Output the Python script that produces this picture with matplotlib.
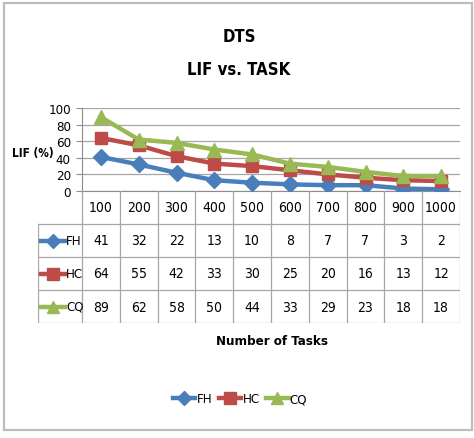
import matplotlib
matplotlib.use("Agg")
import matplotlib.pyplot as plt
from matplotlib.lines import Line2D
from matplotlib.patches import Rectangle

tasks = ["100", "200", "300", "400", "500", "600", "700", "800", "900", "1000"]
series_names = ["FH", "HC", "CQ"]
fh = [41, 32, 22, 13, 10, 8, 7, 7, 3, 2]
hc = [64, 55, 42, 33, 30, 25, 20, 16, 13, 12]
cq = [89, 62, 58, 50, 44, 33, 29, 23, 18, 18]
yticks = [0, 20, 40, 60, 80, 100]

colors = ["#4a7ebb", "#be4b48", "#98b954"]
markers = ["D", "s", "^"]
msizes = [8, 9, 10]
plt.rcParams['font.family'] = ["DejaVu Sans"]
plt.rcParams['font.stretch'] = 'condensed'

W, H = 474, 439
fig = plt.figure(figsize=(W / 100, H / 100), dpi=100)
fig.patch.set_facecolor("white")

def fx(px):
    return px / W

def fy(py):
    return 1 - py / H

# outer border
fig.add_artist(Rectangle((fx(4), fy(431)), fx(468), 427 / H, transform=fig.transFigure,
                         fill=False, edgecolor="#bdbdbd", lw=1.6))

# main plot
L, R, T, B = 82, 460, 109, 192
ax = fig.add_axes([fx(L), fy(B), fx(R - L), (B - T) / H])
x = list(range(len(tasks)))
data = [fh, hc, cq]
for vals, c, m, ms in zip(data, colors, markers, msizes):
    ax.plot(x, vals, color=c, lw=3.2, marker=m, markersize=ms, zorder=3)
ax.set_xlim(-0.5, len(tasks) - 0.5)
ax.set_ylim(0, 100)
ax.set_yticks(yticks)
ax.set_yticklabels([str(v) for v in yticks], fontsize=9.5)
ax.set_xticks([])
ax.grid(axis="y", color="#a6a6a6", lw=0.9)
ax.set_axisbelow(True)
for s in ["top", "right"]:
    ax.spines[s].set_visible(False)
ax.spines["left"].set_color("#8c8c8c")
ax.spines["bottom"].set_color("#8c8c8c")
ax.tick_params(axis="y", length=4, color="#8c8c8c", pad=4)
fig.text(fx(33), fy(153), "LIF (%)", ha="center", va="center", fontsize=8.5, fontweight="bold")

# data table
TL = 38
tb = fig.add_axes([fx(TL), fy(324), fx(R - TL), (324 - 192) / H])
unit = (R - L) / len(tasks)
left_x = -0.5 - (L - TL) / unit
tb.set_xlim(left_x, len(tasks) - 0.5)
tb.set_ylim(4, 0)
tb.axis("off")
gc = "#a6a6a6"
for i in range(len(tasks) + 1):
    tb.plot([i - 0.5, i - 0.5], [0, 4], color=gc, lw=0.9)
tb.plot([left_x, left_x], [1, 4], color=gc, lw=0.9)
for r in range(1, 5):
    tb.plot([left_x, len(tasks) - 0.5], [r, r], color=gc, lw=0.9)
for i, t in enumerate(tasks):
    tb.text(i, 0.5, t, ha="center", va="center", fontsize=10)
for r, (name, vals, c, m, ms) in enumerate(zip(series_names, data, colors, markers, msizes), start=1):
    for i, v in enumerate(vals):
        tb.text(i, r + 0.5, str(v), ha="center", va="center", fontsize=10)
    lx0 = left_x + 0.08
    lx1 = left_x + 0.72
    tb.plot([lx0, lx1], [r + 0.5, r + 0.5], color=c, lw=3.2, clip_on=False)
    tb.plot([(lx0 + lx1) / 2], [r + 0.5], color=c, marker=m, markersize=ms - 1, clip_on=False)
    tb.text(lx1 + 0.02, r + 0.5, name, ha="left", va="center", fontsize=9.5)

# titles
fig.text(fx(239), fy(37), "DTS", ha="center", va="center", fontsize=12, fontweight="bold")
fig.text(fx(239), fy(70), "LIF vs. TASK", ha="center", va="center", fontsize=12, fontweight="bold")
fig.text(fx(272), fy(342), "Number of Tasks", ha="center", va="center", fontsize=9.5, fontweight="bold")

handles = [Line2D([0], [0], color=c, lw=3.2, marker=m, markersize=ms - 1)
           for c, m, ms in zip(colors, markers, msizes)]
fig.legend(handles, series_names, loc="center", bbox_to_anchor=(fx(240), fy(400)),
           ncol=3, frameon=False, fontsize=9.5, handlelength=1.7, handletextpad=0.1,
           columnspacing=0.5)

fig.savefig("out.png", dpi=100, facecolor="white")
